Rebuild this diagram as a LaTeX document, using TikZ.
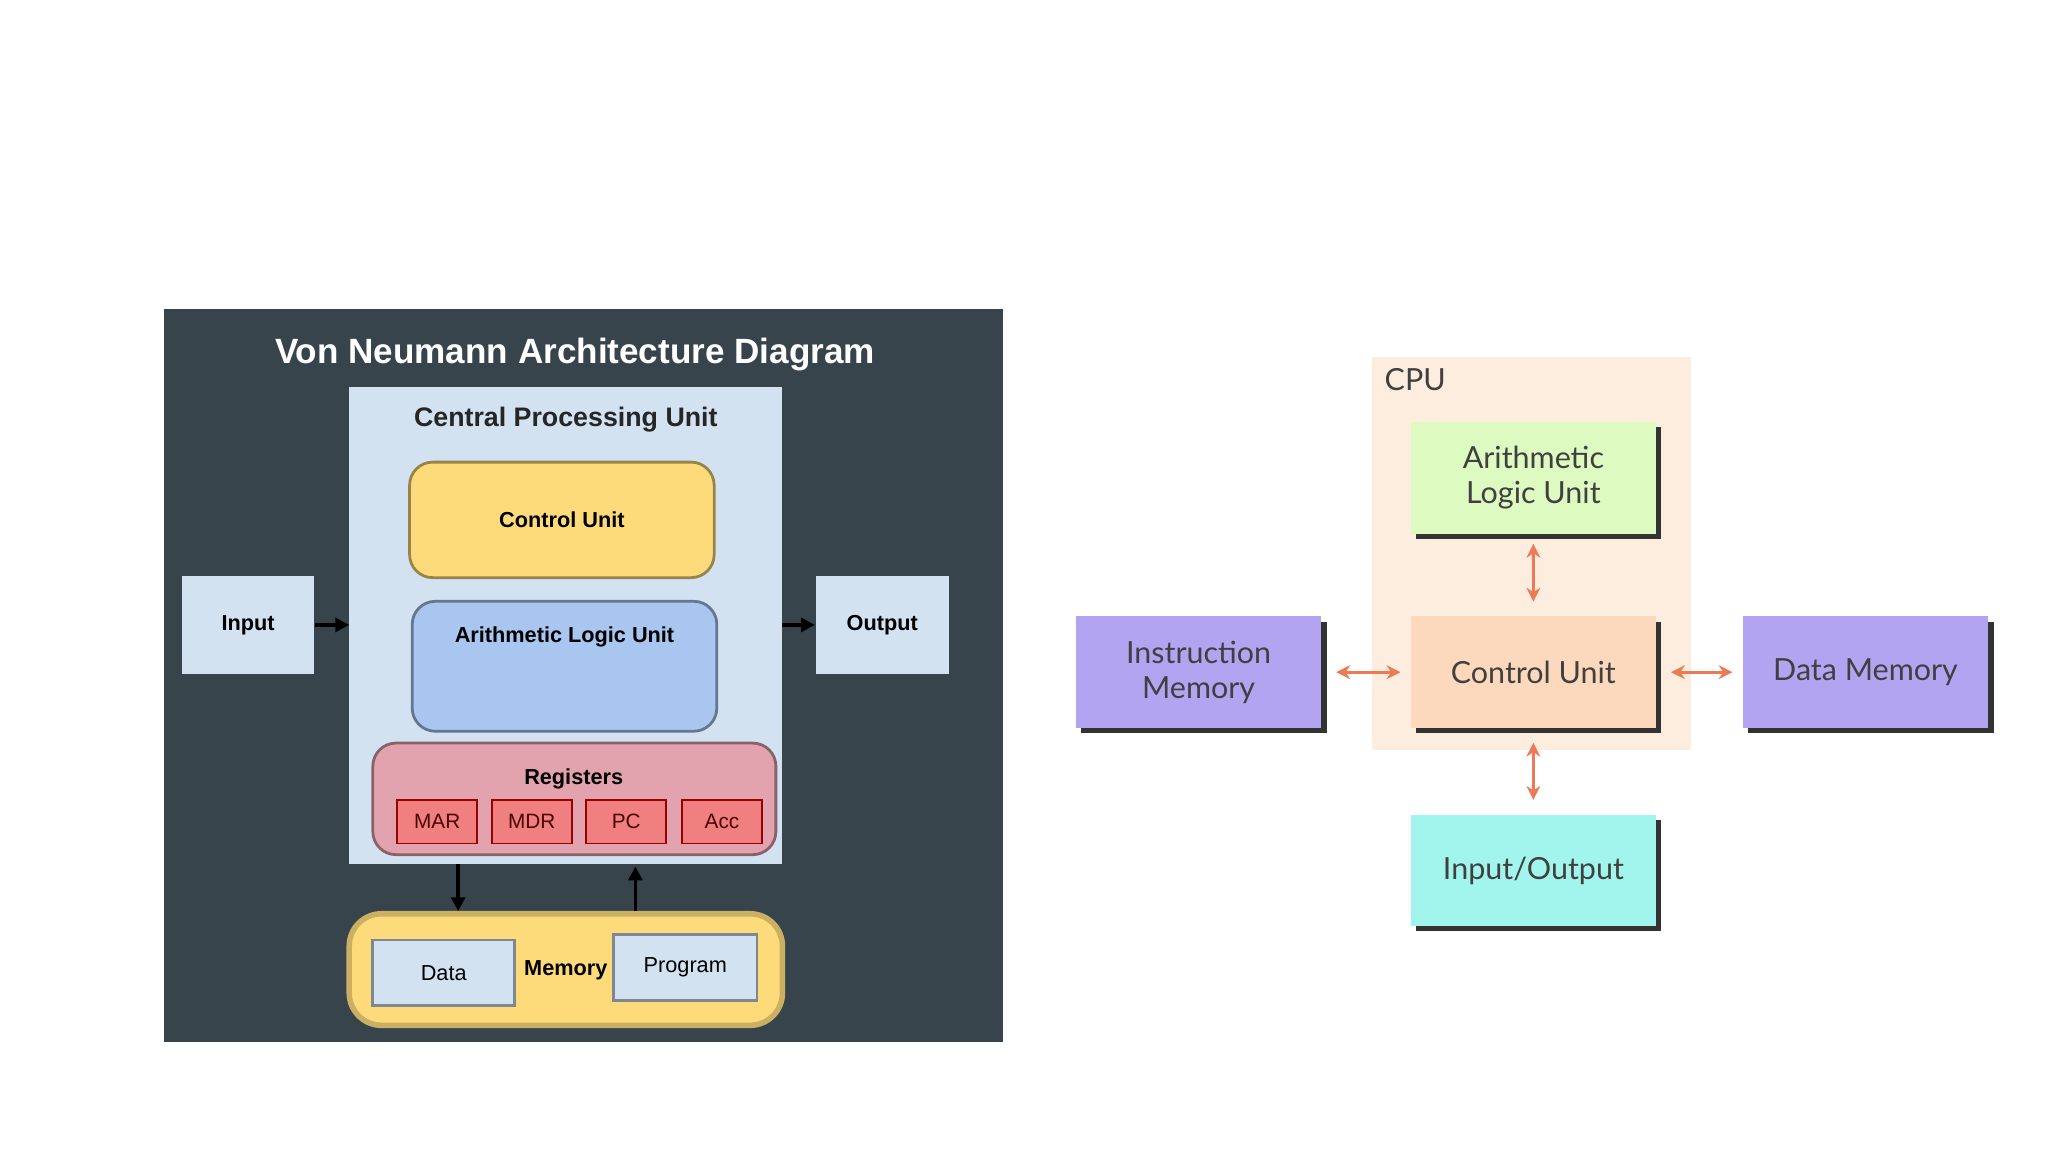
\documentclass[tikz,border=0pt]{standalone}
\usepackage{fontspec}
\setmainfont{Liberation Sans}
\newfontfamily\rfont{Lato}
\usetikzlibrary{arrows.meta, positioning, shadows}
\definecolor{darkbg}{HTML}{37444C}
\definecolor{cpublue}{HTML}{D3E2F1}
\definecolor{cuyellow}{HTML}{FEDB7A}
\definecolor{alublue}{HTML}{A9C6F0}
\definecolor{regpink}{HTML}{E3A3AE}
\definecolor{regred}{HTML}{F08080}
\definecolor{cpupeach}{HTML}{FCEDDF}
\definecolor{alugreen}{HTML}{DDFAC0}
\definecolor{cupeach}{HTML}{FCD9BC}
\definecolor{mempurple}{HTML}{B3A4F2}
\definecolor{iocyan}{HTML}{A2F5EC}
\definecolor{arrorange}{HTML}{EE7A55}
\tikzset{
  lbox/.style={draw=#1!60!black, line width=0.6pt, fill=#1},
  rbox/.style={fill=#1, minimum width=1.87cm, minimum height=0.85cm, align=center,
    font=\rfont\fontsize{6.6}{7.6}\selectfont, text=black!75,
    drop shadow={shadow xshift=0.04cm, shadow yshift=-0.04cm, opacity=1, fill=black!80}},
  regbox/.style={draw=red!60!black, fill=regred, minimum width=0.61cm, minimum height=0.33cm,
    inner sep=1pt, font=\fontsize{4.5}{5}\selectfont, text=red!30!black},
  darr/.style={-{Triangle[length=3pt,width=3pt]}, line width=0.8pt, black},
  oarr/.style={{Stealth[length=3pt,width=3pt]}-{Stealth[length=3pt,width=3pt]}, line width=0.7pt, arrorange}
}
\begin{document}
\begin{tikzpicture}[x=0.01cm, y=-0.01cm]
  \useasboundingbox[fill=white] (0,0) rectangle (1560,878);

  % --- Von Neumann (left) ---
  \fill[darkbg] (125,235) rectangle (764,794);
  \node[text=white, font=\bfseries\fontsize{7.6}{9}\selectfont] (title) at (438,270) {Von Neumann Architecture Diagram};
  \fill[cpublue] (266,295) rectangle (596,658);
  \coordinate (cpuW) at (266,476);
  \coordinate (cpuE) at (596,476);
  \node[font=\bfseries\fontsize{5.8}{7}\selectfont, text=black!85] (cpulbl) at (431,320) {Central Processing Unit};
  \draw[lbox=cuyellow, rounded corners=5pt] (312,352) rectangle (544,440);
  \node[font=\bfseries\fontsize{4.7}{5}\selectfont] (cu) at (428,396) {Control Unit};
  \draw[lbox=alublue, rounded corners=5pt] (314,458) rectangle (546,557);
  \node[font=\bfseries\fontsize{4.7}{5}\selectfont] (alu) at (430,485) {Arithmetic Logic Unit};
  \draw[lbox=regpink, rounded corners=5pt] (284,566) rectangle (591,651);
  \node[font=\bfseries\fontsize{4.7}{5}\selectfont] (reglbl) at (437,593) {Registers};
  \foreach \name/\x in {MAR/333, MDR/405, PC/477, Acc/550}
    \node[regbox] (r\name) at (\x,626) {\name};

  \node[fill=cpublue, minimum width=1.01cm, minimum height=0.74cm, font=\bfseries\fontsize{4.7}{5}\selectfont] (in) at (189,476) {Input};
  \node[fill=cpublue, minimum width=1.01cm, minimum height=0.74cm, font=\bfseries\fontsize{4.7}{5}\selectfont] (out) at (672,476) {Output};
  \draw[darr] (in) -- (cpuW);
  \draw[darr] (cpuE) -- (out);

  \draw[lbox=cuyellow, draw=cuyellow!80!black, line width=1.2pt, rounded corners=7pt] (266,696) rectangle (596,781);
  \node[lbox=cpublue, minimum width=1.08cm, minimum height=0.5cm, font=\fontsize{4.7}{5}\selectfont] (data) at (338,741) {Data};
  \node[lbox=cpublue, minimum width=1.09cm, minimum height=0.5cm, font=\fontsize{4.7}{5}\selectfont] (prog) at (522,737) {Program};
  \node[font=\bfseries\fontsize{4.7}{5}\selectfont] (mem) at (431,739) {Memory};
  \coordinate (d1) at (349,658); \coordinate (d2) at (349,694);
  \coordinate (u1) at (484,694); \coordinate (u2) at (484,660);
  \draw[darr] (d1) -- (d2);
  \draw[darr] (u1) -- (u2);

  % --- Harvard (right) ---
  \fill[cpupeach] (1045,272) rectangle (1288,571);
  \node[font=\rfont\fontsize{6.6}{7.6}\selectfont, text=black!75] (cpu) at (1078,289) {CPU};
  \node[rbox=alugreen] (ralu) at (1168,364) {Arithmetic\\Logic Unit};
  \node[rbox=cupeach] (rcu) at (1168,512) {Control Unit};
  \node[rbox=mempurple] (imem) at (913,512) {Instruction\\Memory};
  \node[rbox=mempurple] (dmem) at (1421,512) {Data Memory};
  \node[rbox=iocyan] (io) at (1168,663) {Input/Output};
  \draw[oarr] ([yshift=-2pt]ralu.south) -- ([yshift=3pt]rcu.north);
  \draw[oarr] ([yshift=-3pt]rcu.south) -- ([yshift=3pt]io.north);
  \draw[oarr] ([xshift=3pt]imem.east) -- ([xshift=-2pt]rcu.west);
  \draw[oarr] ([xshift=3pt]rcu.east) -- ([xshift=-2pt]dmem.west);
\end{tikzpicture}
\end{document}
